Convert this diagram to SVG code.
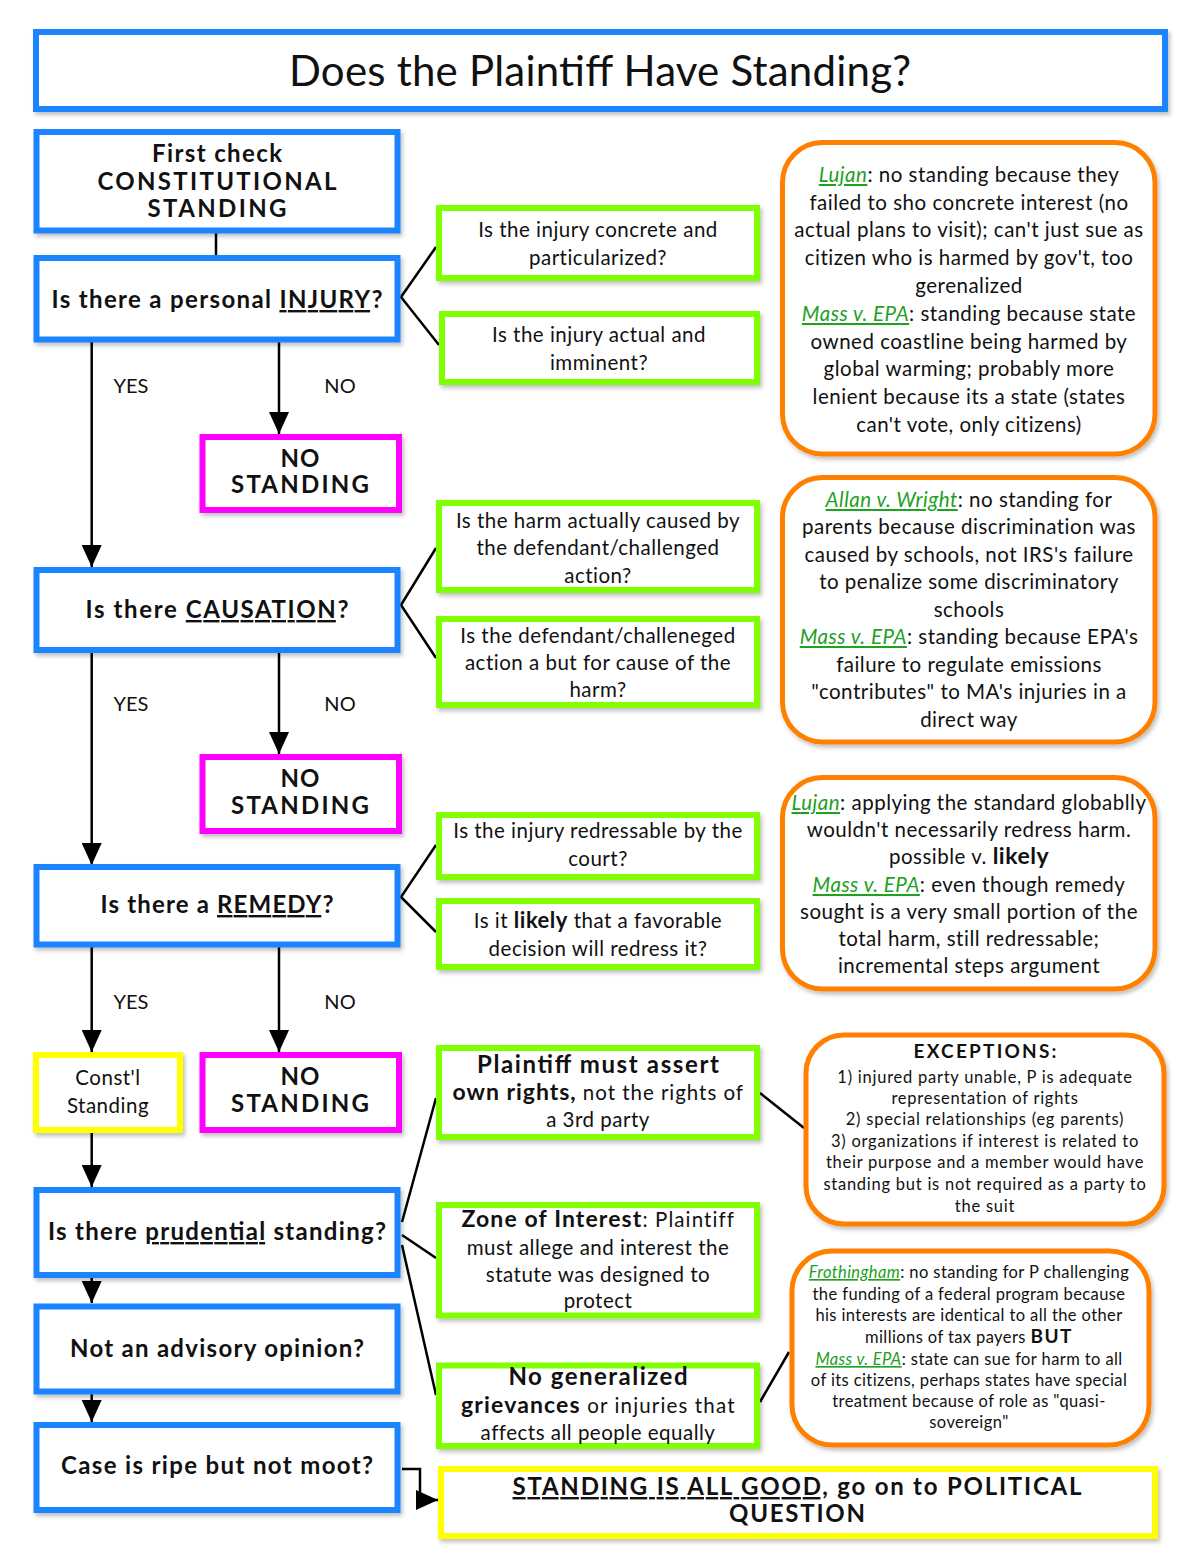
<svg xmlns="http://www.w3.org/2000/svg" width="1200" height="1553" viewBox="0 0 1200 1553">
<defs>
<style>
text{font-family:Lato,"Open Sans","Liberation Sans",sans-serif;fill:#111;text-anchor:middle}
.blue{fill:#fff;stroke:#1a84ff;stroke-width:6}
.green{fill:#fff;stroke:#80ff00;stroke-width:6}
.mag{fill:#fff;stroke:#ff00ff;stroke-width:6}
.yel{fill:#fff;stroke:#ffff00;stroke-width:6}
.org{fill:#fff;stroke:#ff8000;stroke-width:5}
.bt{font-weight:bold;font-size:24px}
.rt{font-size:20.5px;letter-spacing:0.5px}
.st{font-size:16.5px;letter-spacing:0.4px}
.xt{font-size:16.5px;letter-spacing:0.75px}
.lbl{font-size:20px}
.case{fill:#22a022;font-style:italic;text-decoration:underline}
.u{text-decoration:underline}
.b{font-weight:bold}
.bb{font-weight:bold;font-size:23px}
.conn{stroke:#000;stroke-width:2.5;fill:none}
</style>
<filter id="sh" x="-10%" y="-10%" width="120%" height="130%">
<feDropShadow dx="2" dy="3" stdDeviation="2" flood-color="#000" flood-opacity="0.25"/>
</filter>
<marker id="ah" viewBox="0 0 22 20" refX="22" refY="10" markerWidth="22" markerHeight="20" markerUnits="userSpaceOnUse" orient="auto">
<path d="M0,0 L22,10 L0,20 z" fill="#000"/>
</marker>
</defs>
<rect width="1200" height="1553" fill="#fff"/>

<g id="title">
<rect x="36" y="32" width="1129" height="77" class="blue" filter="url(#sh)"/>
<text x="600" y="86" style="font-size:42px" textLength="622">Does the Plaintiff Have Standing?</text>
</g>

<g id="connectors">
<path class="conn" d="M216,233 V256"/>
<path class="conn" d="M91.7,342 V567" marker-end="url(#ah)"/>
<path class="conn" d="M279,342 V434" marker-end="url(#ah)"/>
<path class="conn" d="M91.7,652 V865" marker-end="url(#ah)"/>
<path class="conn" d="M279,652 V754" marker-end="url(#ah)"/>
<path class="conn" d="M91.7,947 V1052" marker-end="url(#ah)"/>
<path class="conn" d="M279,947 V1052" marker-end="url(#ah)"/>
<path class="conn" d="M91.7,1133 V1187" marker-end="url(#ah)"/>
<path class="conn" d="M91.7,1278 V1303" marker-end="url(#ah)"/>
<path class="conn" d="M91.7,1394 V1422" marker-end="url(#ah)"/>
<path class="conn" d="M402,1469 H420 V1500 H438" marker-end="url(#ah)"/>
<path class="conn" d="M436,247 L401,297 L439,345"/>
<path class="conn" d="M436,548 L401,605 L436,658"/>
<path class="conn" d="M436,845 L401,897 L436,932"/>
<path class="conn" d="M436,1098 L402,1222"/>
<path class="conn" d="M402,1235 L436,1258"/>
<path class="conn" d="M402,1245 L436,1395"/>
<path class="conn" d="M760,1093 L804,1128"/>
<path class="conn" d="M760,1402 L789,1352"/>
<text class="lbl" x="131" y="393">YES</text>
<text class="lbl" x="340" y="393">NO</text>
<text class="lbl" x="131" y="711">YES</text>
<text class="lbl" x="340" y="711">NO</text>
<text class="lbl" x="131" y="1009">YES</text>
<text class="lbl" x="340" y="1009">NO</text>
</g>

<g id="first-check">
<rect x="36.5" y="132" width="361" height="98.5" class="blue" filter="url(#sh)"/>
<text class="bt" x="217" y="162" textLength="130">First check</text>
<text class="bt" x="217" y="190" textLength="239">CONSTITUTIONAL</text>
<text class="bt" x="217" y="217" textLength="139">STANDING</text>
</g>

<g id="injury">
<rect x="36.5" y="258" width="361" height="81.5" class="blue" filter="url(#sh)"/>
<text class="bt" x="217" y="308" textLength="331">Is there a personal <tspan class="u">INJURY</tspan>?</text>
</g>

<g id="no-standing-1">
<rect x="202.5" y="437" width="196.5" height="73" class="mag" filter="url(#sh)"/>
<text class="bt" x="300" y="467" textLength="39">NO</text>
<text class="bt" x="300" y="493" textLength="138">STANDING</text>
</g>

<g id="causation">
<rect x="36.5" y="570" width="361" height="80" class="blue" filter="url(#sh)"/>
<text class="bt" x="217" y="618" textLength="263">Is there <tspan class="u">CAUSATION</tspan>?</text>
</g>

<g id="no-standing-2">
<rect x="202.5" y="757" width="196.5" height="74" class="mag" filter="url(#sh)"/>
<text class="bt" x="300" y="787" textLength="39">NO</text>
<text class="bt" x="300" y="814" textLength="138">STANDING</text>
</g>

<g id="remedy">
<rect x="36.5" y="867" width="361" height="77.5" class="blue" filter="url(#sh)"/>
<text class="bt" x="217" y="913" textLength="233">Is there a <tspan class="u">REMEDY</tspan>?</text>
</g>

<g id="const-standing">
<rect x="36" y="1055" width="144" height="75" class="yel" filter="url(#sh)"/>
<text class="rt" x="108" y="1085">Const'l</text>
<text class="rt" x="108" y="1113">Standing</text>
</g>

<g id="no-standing-3">
<rect x="202.5" y="1055" width="196.5" height="75" class="mag" filter="url(#sh)"/>
<text class="bt" x="300" y="1085" textLength="39">NO</text>
<text class="bt" x="300" y="1112" textLength="138">STANDING</text>
</g>

<g id="prudential">
<rect x="36.5" y="1190" width="361" height="85" class="blue" filter="url(#sh)"/>
<text class="bt" x="217" y="1240" textLength="338">Is there <tspan class="u">prudential</tspan> standing?</text>
</g>

<g id="advisory">
<rect x="36.5" y="1306.5" width="361" height="85" class="blue" filter="url(#sh)"/>
<text class="bt" x="217" y="1357" textLength="294">Not an advisory opinion?</text>
</g>

<g id="ripe">
<rect x="36.5" y="1425" width="361" height="85" class="blue" filter="url(#sh)"/>
<text class="bt" x="217" y="1474" textLength="312">Case is ripe but not moot?</text>
</g>

<g id="concrete">
<rect x="439" y="208" width="318" height="70" class="green" filter="url(#sh)"/>
<text class="rt" x="598" y="237">Is the injury concrete and</text>
<text class="rt" x="598" y="265">particularized?</text>
</g>

<g id="actual">
<rect x="442" y="314" width="315" height="68" class="green" filter="url(#sh)"/>
<text class="rt" x="599" y="342">Is the injury actual and</text>
<text class="rt" x="599" y="370">imminent?</text>
</g>

<g id="caused-by">
<rect x="439" y="503" width="318" height="87" class="green" filter="url(#sh)"/>
<text class="rt" x="598" y="528">Is the harm actually caused by</text>
<text class="rt" x="598" y="555">the defendant/challenged</text>
<text class="rt" x="598" y="583">action?</text>
</g>

<g id="but-for">
<rect x="439" y="619" width="318" height="86" class="green" filter="url(#sh)"/>
<text class="rt" x="598" y="643">Is the defendant/challeneged</text>
<text class="rt" x="598" y="670">action a but for cause of the</text>
<text class="rt" x="598" y="697">harm?</text>
</g>

<g id="redressable">
<rect x="439" y="815" width="318" height="62" class="green" filter="url(#sh)"/>
<text class="rt" x="598" y="838">Is the injury redressable by the</text>
<text class="rt" x="598" y="866">court?</text>
</g>

<g id="likely">
<rect x="439" y="901" width="318" height="66" class="green" filter="url(#sh)"/>
<text class="rt" x="598" y="928">Is it <tspan class="b" style="font-size:22px">likely</tspan> that a favorable</text>
<text class="rt" x="598" y="956">decision will redress it?</text>
</g>

<g id="own-rights">
<rect x="439" y="1048" width="318" height="89" class="green" filter="url(#sh)"/>
<text class="bt" x="598" y="1073" textLength="242">Plaintiff must assert</text>
<text class="rt" x="598" y="1100" textLength="291"><tspan class="bb">own rights,</tspan> not the rights of</text>
<text class="rt" x="598" y="1127">a 3rd party</text>
</g>

<g id="zone">
<rect x="439" y="1205" width="318" height="110.5" class="green" filter="url(#sh)"/>
<text class="rt" x="598" y="1227" textLength="273"><tspan class="bb">Zone of Interest</tspan>: Plaintiff</text>
<text class="rt" x="598" y="1255">must allege and interest the</text>
<text class="rt" x="598" y="1282">statute was designed to</text>
<text class="rt" x="598" y="1308">protect</text>
</g>

<g id="generalized">
<rect x="439" y="1365.5" width="318" height="80.5" class="green" filter="url(#sh)"/>
<text class="bt" x="598" y="1385" textLength="179">No generalized</text>
<text class="rt" x="598" y="1413" textLength="274"><tspan class="bb">grievances</tspan> or injuries that</text>
<text class="rt" x="598" y="1440">affects all people equally</text>
</g>

<g id="final">
<rect x="441" y="1469" width="714" height="67" class="yel" filter="url(#sh)"/>
<text class="bt" x="797" y="1495" textLength="569"><tspan class="u">STANDING IS ALL GOOD</tspan>, go on to POLITICAL</text>
<text class="bt" x="797" y="1522" textLength="136">QUESTION</text>
</g>

<g id="injury-cases">
<rect x="782.5" y="142.5" width="372.5" height="311.5" rx="40" class="org" filter="url(#sh)"/>
<text class="rt" x="969" y="182"><tspan class="case">Lujan</tspan>: no standing because they</text>
<text class="rt" x="969" y="210">failed to sho concrete interest (no</text>
<text class="rt" x="969" y="237">actual plans to visit); can't just sue as</text>
<text class="rt" x="969" y="265">citizen who is harmed by gov't, too</text>
<text class="rt" x="969" y="293">gerenalized</text>
<text class="rt" x="969" y="321"><tspan class="case">Mass v. EPA</tspan>: standing because state</text>
<text class="rt" x="969" y="349">owned coastline being harmed by</text>
<text class="rt" x="969" y="376">global warming; probably more</text>
<text class="rt" x="969" y="404">lenient because its a state (states</text>
<text class="rt" x="969" y="432">can't vote, only citizens)</text>
</g>

<g id="causation-cases">
<rect x="782.5" y="477.5" width="372.5" height="264.5" rx="40" class="org" filter="url(#sh)"/>
<text class="rt" x="969" y="507"><tspan class="case">Allan v. Wright</tspan>: no standing for</text>
<text class="rt" x="969" y="534">parents because discrimination was</text>
<text class="rt" x="969" y="562">caused by schools, not IRS's failure</text>
<text class="rt" x="969" y="589">to penalize some discriminatory</text>
<text class="rt" x="969" y="617">schools</text>
<text class="rt" x="969" y="644"><tspan class="case">Mass v. EPA</tspan>: standing because EPA's</text>
<text class="rt" x="969" y="672">failure to regulate emissions</text>
<text class="rt" x="969" y="699">"contributes" to MA's injuries in a</text>
<text class="rt" x="969" y="727">direct way</text>
</g>

<g id="remedy-cases">
<rect x="782.5" y="777.5" width="372.5" height="211.5" rx="40" class="org" filter="url(#sh)"/>
<text class="rt" x="969" y="810"><tspan class="case">Lujan</tspan>: applying the standard globablly</text>
<text class="rt" x="969" y="837">wouldn't necessarily redress harm.</text>
<text class="rt" x="969" y="864">possible v. <tspan class="bb">likely</tspan></text>
<text class="rt" x="969" y="892"><tspan class="case">Mass v. EPA</tspan>: even though remedy</text>
<text class="rt" x="969" y="919">sought is a very small portion of the</text>
<text class="rt" x="969" y="946">total harm, still redressable;</text>
<text class="rt" x="969" y="973">incremental steps argument</text>
</g>

<g id="exceptions">
<rect x="806" y="1035" width="358" height="189" rx="38" class="org" filter="url(#sh)"/>
<text x="985" y="1058" style="font-size:19px;font-weight:bold" textLength="143">EXCEPTIONS:</text>
<text class="xt" x="985" y="1083">1) injured party unable, P is adequate</text>
<text class="xt" x="985" y="1104">representation of rights</text>
<text class="xt" x="985" y="1125">2) special relationships (eg parents)</text>
<text class="xt" x="985" y="1147">3) organizations if interest is related to</text>
<text class="xt" x="985" y="1168">their purpose and a member would have</text>
<text class="xt" x="985" y="1190">standing but is not required as a party to</text>
<text class="xt" x="985" y="1212">the suit</text>
</g>

<g id="generalized-cases">
<rect x="792" y="1251" width="357" height="194" rx="40" class="org" filter="url(#sh)"/>
<text class="st" x="969" y="1278"><tspan class="case">Frothingham</tspan>: no standing for P challenging</text>
<text class="st" x="969" y="1300">the funding of a federal program because</text>
<text class="st" x="969" y="1321">his interests are identical to all the other</text>
<text class="st" x="969" y="1343">millions of tax payers <tspan style="font-weight:bold;font-size:19px;letter-spacing:1.5px">BUT</tspan></text>
<text class="st" x="969" y="1365"><tspan class="case">Mass v. EPA</tspan>: state can sue for harm to all</text>
<text class="st" x="969" y="1386">of its citizens, perhaps states have special</text>
<text class="st" x="969" y="1407">treatment because of role as "quasi-</text>
<text class="st" x="969" y="1428">sovereign"</text>
</g>
</svg>
